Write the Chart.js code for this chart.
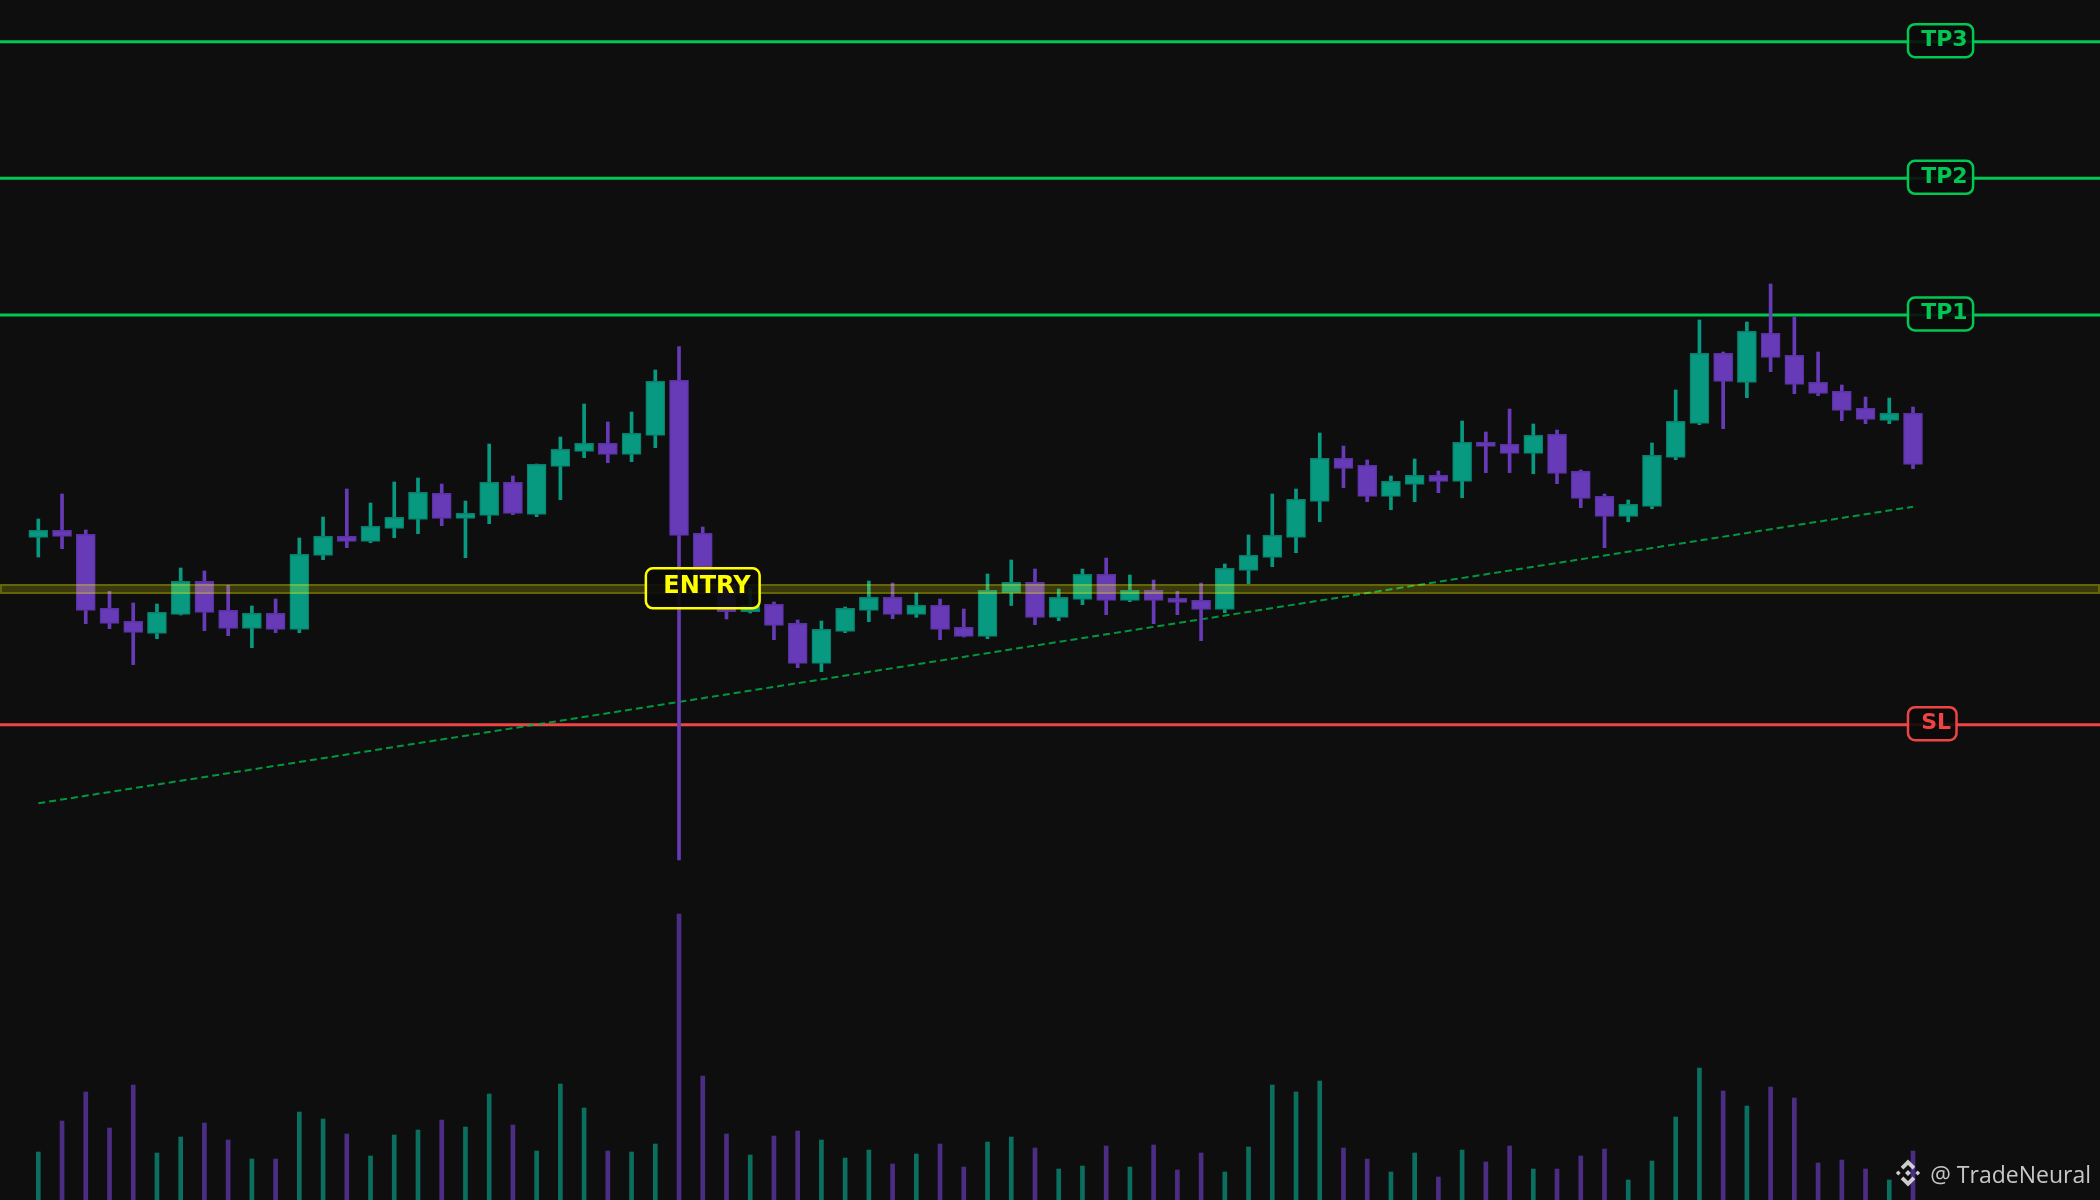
<!DOCTYPE html>
<html>
<head>
<meta charset="utf-8">
<script src="https://cdn.jsdelivr.net/npm/chart.js@4.4.1/dist/chart.umd.min.js"></script>
<style>
  html, body { margin: 0; padding: 0; background: #0e0e0e; }
  canvas { display: block; }
</style>
</head>
<body>
<canvas id="chart" width="2100" height="1200"></canvas>
<script>
// candle data (arbitrary price units)
const opens = [66.27, 66.97, 66.57, 59.17, 57.87, 56.67, 58.57, 61.87, 58.97, 57.17,
  58.67, 57.07, 64.47, 66.37, 65.87, 67.17, 68.07, 70.67, 68.17, 68.47,
  71.77, 68.57, 73.37, 74.87, 75.67, 74.57, 76.47, 81.97, 66.67, 61.6,
  58.83, 59.57, 57.67, 53.67, 56.87, 58.97, 60.27, 58.57, 59.47, 57.27,
  56.37, 60.73, 61.77, 58.27, 60.07, 62.57, 59.97, 60.97, 60.17, 59.97,
  59.07, 62.97, 64.27, 66.27, 69.87, 74.17, 73.47, 70.37, 71.57, 72.47,
  71.87, 75.77, 75.57, 74.67, 76.57, 72.87, 70.37, 68.37, 69.37, 74.27,
  77.67, 84.67, 81.77, 86.67, 84.47, 81.77, 80.87, 79.17, 77.97, 78.67];
const highs = [68.1, 70.6, 67.0, 60.87, 59.7, 59.6, 63.2, 62.9, 61.47, 59.4,
  60.1, 66.2, 68.3, 71.1, 69.7, 71.8, 72.2, 71.6, 69.9, 75.6,
  72.4, 73.6, 76.3, 79.6, 77.8, 78.8, 83.0, 85.33, 67.3, 62.0,
  61.2, 59.8, 58.0, 57.9, 59.3, 61.9, 61.7, 60.7, 60.1, 59.1,
  62.6, 64.0, 63.1, 61.1, 63.1, 64.2, 62.5, 62.0, 60.87, 61.7,
  63.6, 66.5, 70.6, 71.1, 76.7, 75.4, 74.0, 72.4, 74.1, 72.9,
  77.9, 76.8, 79.1, 77.6, 77.0, 73.0, 70.6, 70.0, 75.7, 81.0,
  88.0, 84.8, 87.8, 91.6, 88.3, 84.8, 81.5, 80.3, 80.2, 79.3];
const lows = [64.3, 65.13, 57.63, 57.13, 53.53, 56.13, 58.5, 56.93, 56.43, 55.23,
  56.73, 56.73, 64.03, 65.23, 65.73, 66.23, 66.63, 67.43, 64.23, 67.63,
  68.53, 68.33, 70.03, 74.23, 73.73, 73.83, 75.23, 34.0, 61.8, 58.1,
  58.7, 56.03, 53.23, 52.83, 56.73, 57.83, 58.13, 58.27, 56.03, 56.3,
  56.13, 59.45, 57.53, 57.93, 59.53, 58.53, 59.83, 57.63, 58.53, 55.93,
  58.73, 61.63, 63.33, 64.73, 67.83, 71.23, 69.83, 69.03, 69.83, 70.73,
  70.23, 72.73, 72.73, 72.63, 71.63, 69.23, 65.23, 67.83, 69.13, 74.03,
  77.53, 77.13, 80.23, 82.83, 80.63, 80.43, 77.93, 77.63, 77.63, 73.13];
const closes = [66.97, 66.37, 58.97, 57.67, 56.77, 58.77, 61.87, 58.77, 57.17, 58.67,
  57.07, 64.57, 66.37, 65.87, 67.37, 68.27, 70.77, 68.17, 68.67, 71.77,
  68.67, 73.57, 75.07, 75.67, 74.57, 76.67, 81.87, 66.47, 62.4, 58.83,
  59.5, 57.47, 53.67, 57.07, 59.17, 60.27, 58.57, 59.47, 57.07, 56.37,
  60.97, 61.77, 58.27, 60.27, 62.57, 59.97, 60.97, 59.97, 59.77, 59.07,
  63.17, 64.47, 66.47, 70.07, 74.17, 73.17, 70.37, 71.87, 72.47, 71.87,
  75.77, 75.37, 74.67, 76.47, 72.67, 70.17, 68.37, 69.57, 74.47, 77.87,
  84.67, 81.87, 86.87, 84.27, 81.57, 80.67, 78.97, 78.07, 78.67, 73.57];
const volumes = [480, 790, 1080, 720, 1150, 470, 630, 770, 600, 410,
  410, 880, 810, 660, 440, 650, 700, 800, 730, 1060,
  750, 490, 1160, 920, 490, 480, 560, 2860, 1240, 660,
  450, 640, 690, 600, 420, 500, 360, 460, 560, 330,
  580, 630, 520, 310, 340, 540, 330, 550, 300, 470,
  280, 530, 1150, 1080, 1190, 520, 410, 280, 470, 230,
  500, 380, 540, 310, 310, 440, 510, 200, 390, 830,
  1320, 1090, 940, 1130, 1020, 370, 400, 310, 200, 490];

// trade levels
const levelNames = ['TP3', 'TP2', 'TP1', 'SL'];
const levelPrices = [115.83, 102.17, 88.5, 47.53];
const entryPrice = 61.1;
const entryIndex = 28;
// support trendline from first to last candle
const trendIdx = [0, 79];
const trendVals = [39.67, 69.33];

const UP = '#089981', DOWN = '#673ab7';
const UP_EDGE = '#077f6b', DOWN_EDGE = '#5a32a3';
const TP_COLOR = '#00c853', SL_COLOR = '#f04444', ENTRY_COLOR = '#ffff00';

const isUp = closes.map((c, i) => c >= opens[i]);
const bodyData = opens.map((o, i) => ({ x: i, y: [o, closes[i]] }));
const wickData = lows.map((l, i) => ({ x: i, y: [l, highs[i]] }));
const volData = volumes.map((v, i) => ({ x: i, y: v }));
const trendData = trendIdx.map((x, i) => ({ x, y: trendVals[i] }));

function drawTag(ctx, text, left, cy, color, size, pad, h, lift) {
    ctx.save();
    ctx.font = `bold ${size}px "DejaVu Sans"`;
    const w = ctx.measureText(' ' + text).width + pad * 2;
    ctx.beginPath();
    ctx.roundRect(left, cy - h / 2, w, h, 7);
    ctx.fillStyle = 'rgba(10,10,10,0.9)';
    ctx.fill();
    ctx.lineWidth = 2.5;
    ctx.strokeStyle = color;
    ctx.stroke();
    ctx.fillStyle = color;
    ctx.textBaseline = 'middle';
    ctx.fillText(' ' + text, left + pad, cy - lift);
    ctx.restore();
    return w;
}

function drawLogo(ctx, cx, cy, r) {
    ctx.save();
    ctx.fillStyle = 'rgba(225,225,225,0.9)';
    const dia = (x, y, s) => {
        ctx.beginPath();
        ctx.moveTo(x, y - s); ctx.lineTo(x + s, y); ctx.lineTo(x, y + s); ctx.lineTo(x - s, y);
        ctx.closePath(); ctx.fill();
    };
    dia(cx, cy, r * 0.22);
    dia(cx - r * 0.72, cy, r * 0.18);
    dia(cx + r * 0.72, cy, r * 0.18);
    [-1, 1].forEach(sg => {
        ctx.beginPath();
        ctx.moveTo(cx, cy + sg * r);
        ctx.lineTo(cx + r * 0.54, cy + sg * r * 0.46);
        ctx.lineTo(cx + r * 0.34, cy + sg * r * 0.26);
        ctx.lineTo(cx, cy + sg * r * 0.6);
        ctx.lineTo(cx - r * 0.34, cy + sg * r * 0.26);
        ctx.lineTo(cx - r * 0.54, cy + sg * r * 0.46);
        ctx.closePath(); ctx.fill();
    });
    ctx.restore();
}

const overlay = {
    id: 'overlay',
    beforeDraw(chart) {
        const ctx = chart.ctx;
        ctx.save();
        ctx.fillStyle = '#0e0e0e';
        ctx.fillRect(0, 0, chart.width, chart.height);
        ctx.restore();
    },
    beforeDatasetsDraw(chart) {
        // horizontal TP / SL lines under the candles
        const ctx = chart.ctx, y = chart.scales.y;
        ctx.save();
        ctx.lineWidth = 3;
        levelPrices.forEach((p, i) => {
            const py = y.getPixelForValue(p);
            ctx.strokeStyle = levelNames[i] === 'SL' ? SL_COLOR : TP_COLOR;
            ctx.beginPath(); ctx.moveTo(0, py); ctx.lineTo(chart.width, py); ctx.stroke();
        });
        ctx.restore();
    },
    afterDatasetsDraw(chart) {
        const ctx = chart.ctx, x = chart.scales.x, y = chart.scales.y;
        // entry zone band, drawn over the candles
        const ey = y.getPixelForValue(entryPrice);
        ctx.save();
        ctx.fillStyle = 'rgba(255,255,0,0.18)';
        ctx.fillRect(0, ey - 5, chart.width, 10);
        ctx.strokeStyle = 'rgba(255,255,0,0.22)';
        ctx.lineWidth = 2;
        ctx.strokeRect(1, ey - 4, chart.width - 2, 8);
        ctx.restore();

        // entry tag centred on its candle
        ctx.save();
        ctx.font = 'bold 24px "DejaVu Sans"';
        const ew = ctx.measureText(' ENTRY').width + 18;
        ctx.restore();
        drawTag(ctx, 'ENTRY', x.getPixelForValue(entryIndex) - ew / 2, ey - 0.7, ENTRY_COLOR, 24, 9, 40, 2);

        // level tags at the right
        const left = x.getPixelForValue(opens.length - 1) - 5;
        levelPrices.forEach((p, i) => {
            const col = levelNames[i] === 'SL' ? SL_COLOR : TP_COLOR;
            drawTag(ctx, levelNames[i], left, y.getPixelForValue(p) - 1, col, 22, 5.5, 33, 0.5);
        });
    },
    afterDraw(chart) {
        const ctx = chart.ctx;
        drawLogo(ctx, 1908, 1173, 13.5);
        ctx.save();
        ctx.font = '23px "Open Sans"';
        ctx.fillStyle = 'rgba(220,220,220,0.9)';
        ctx.textAlign = 'right';
        ctx.textBaseline = 'alphabetic';
        ctx.fillText('@ TradeNeural', 2091, 1183);
        ctx.restore();
    }
};

new Chart(document.getElementById('chart'), {
    type: 'bar',
    data: {
        datasets: [
            {
                label: 'bodies',
                data: bodyData,
                grouped: false,
                barThickness: 19,
                backgroundColor: isUp.map(u => u ? UP : DOWN),
                borderColor: isUp.map(u => u ? UP_EDGE : DOWN_EDGE),
                borderWidth: 1.2,
                borderSkipped: false,
                order: 1
            },
            {
                label: 'wicks',
                data: wickData,
                grouped: false,
                barThickness: 3,
                backgroundColor: isUp.map(u => u ? UP : DOWN),
                borderWidth: 0,
                order: 2
            },
            {
                type: 'line',
                label: 'trend',
                data: trendData,
                borderColor: 'rgba(0,175,70,0.85)',
                borderWidth: 2,
                borderDash: [7, 4],
                pointRadius: 0,
                fill: false,
                order: 3
            },
            {
                label: 'volume',
                data: volData,
                yAxisID: 'yv',
                grouped: false,
                barThickness: 4,
                backgroundColor: isUp.map(u => u ? 'rgba(8,153,129,0.7)' : 'rgba(103,58,183,0.7)'),
                borderWidth: 0,
                order: 4
            }
        ]
    },
    options: {
        responsive: false,
        devicePixelRatio: 1,
        animation: false,
        events: [],
        layout: { padding: 0 },
        plugins: { legend: { display: false }, tooltip: { enabled: false } },
        scales: {
            x: { type: 'linear', min: -1.614, max: 86.88, offset: false, display: false },
            y: { type: 'linear', min: 0, max: 120, display: false },
            yv: { type: 'linear', min: 0, max: 12000, display: false }
        }
    },
    plugins: [overlay]
});
</script>
</body>
</html>
